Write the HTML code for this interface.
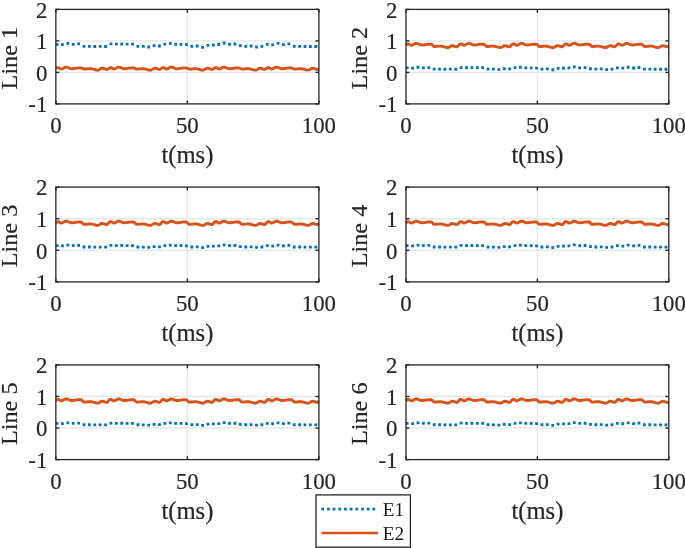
<!DOCTYPE html>
<html><head><meta charset="utf-8"><style>
html,body{margin:0;padding:0;background:#fff;}
svg{display:block;}
text{font-family:"Liberation Serif","Times New Roman",serif;fill:#262626;stroke:#262626;stroke-width:0.2px;}
.t{font-size:22.8px;}
.l{font-size:24.6px;}
.yl{font-size:24.2px;}
.g{font-size:19.2px;fill:#1a1a1a;stroke:none;}
</style></head><body>
<svg width="685" height="548" viewBox="0 0 685 548">
<line x1="55.85" y1="72.40" x2="318.9" y2="72.40" stroke="#e6e7e9" stroke-width="1.4"/>
<line x1="55.85" y1="40.90" x2="318.9" y2="40.90" stroke="#e6e7e9" stroke-width="1.4"/>
<line x1="187.38" y1="9.4" x2="187.38" y2="103.9" stroke="#e6e7e9" stroke-width="1.4"/>
<path d="M55.65 42.90h2.8v2.8h-2.8zM61.04 43.30h2.8v2.8h-2.8zM66.43 42.00h2.8v2.8h-2.8zM71.82 42.90h2.8v2.8h-2.8zM77.21 42.50h2.8v2.8h-2.8zM82.60 44.90h2.8v2.8h-2.8zM87.99 44.90h2.8v2.8h-2.8zM93.38 45.10h2.8v2.8h-2.8zM98.77 45.05h2.8v2.8h-2.8zM104.16 45.10h2.8v2.8h-2.8zM109.55 42.50h2.8v2.8h-2.8zM114.94 42.70h2.8v2.8h-2.8zM120.33 42.60h2.8v2.8h-2.8zM125.72 42.70h2.8v2.8h-2.8zM131.11 42.70h2.8v2.8h-2.8zM136.50 44.90h2.8v2.8h-2.8zM141.89 45.00h2.8v2.8h-2.8zM147.28 45.60h2.8v2.8h-2.8zM152.67 44.30h2.8v2.8h-2.8zM158.06 44.60h2.8v2.8h-2.8zM163.45 42.70h2.8v2.8h-2.8zM168.84 42.00h2.8v2.8h-2.8zM174.23 42.90h2.8v2.8h-2.8zM179.62 42.90h2.8v2.8h-2.8zM185.01 43.30h2.8v2.8h-2.8zM190.40 44.90h2.8v2.8h-2.8zM195.79 44.60h2.8v2.8h-2.8zM201.18 45.90h2.8v2.8h-2.8zM206.57 43.90h2.8v2.8h-2.8zM211.96 43.60h2.8v2.8h-2.8zM217.35 43.10h2.8v2.8h-2.8zM222.74 41.60h2.8v2.8h-2.8zM228.13 42.90h2.8v2.8h-2.8zM233.52 42.60h2.8v2.8h-2.8zM238.91 44.30h2.8v2.8h-2.8zM244.30 44.90h2.8v2.8h-2.8zM249.69 44.60h2.8v2.8h-2.8zM255.08 45.60h2.8v2.8h-2.8zM260.47 44.90h2.8v2.8h-2.8zM265.86 42.90h2.8v2.8h-2.8zM271.25 43.40h2.8v2.8h-2.8zM276.64 42.00h2.8v2.8h-2.8zM282.03 43.20h2.8v2.8h-2.8zM287.42 42.40h2.8v2.8h-2.8zM292.81 44.90h2.8v2.8h-2.8zM298.20 44.90h2.8v2.8h-2.8zM303.59 45.10h2.8v2.8h-2.8zM308.98 45.10h2.8v2.8h-2.8zM314.37 45.10h2.8v2.8h-2.8z" fill="#0072BD"/>
<polyline points="55.85,68.68 56.35,68.33 56.85,67.91 57.35,67.73 57.85,67.60 58.35,67.60 58.85,67.76 59.35,68.04 59.85,68.38 60.35,68.70 60.85,68.93 61.35,69.00 61.85,68.92 62.35,68.75 62.85,68.52 63.35,68.24 63.85,67.95 64.35,67.67 64.85,67.42 65.35,67.23 65.85,67.12 66.35,67.11 66.85,67.18 67.35,67.32 67.85,67.50 68.35,67.71 68.85,67.94 69.35,68.16 69.85,68.37 70.35,68.54 70.85,68.66 71.35,68.71 71.85,68.72 72.35,68.71 72.85,68.67 73.35,68.62 73.85,68.55 74.35,68.48 74.85,68.40 75.35,68.32 75.85,68.24 76.35,68.16 76.85,68.09 77.35,68.04 77.85,68.00 78.35,67.98 78.85,67.96 79.35,67.94 79.85,67.94 80.35,67.93 80.85,67.93 81.35,67.93 81.85,68.17 82.35,68.41 82.85,68.65 83.35,68.89 83.85,69.12 84.35,69.11 84.85,69.10 85.35,69.07 85.85,69.03 86.35,68.98 86.85,68.92 87.35,68.86 87.85,68.81 88.35,68.75 88.85,68.71 89.35,68.68 89.85,68.67 90.35,68.67 90.85,68.70 91.35,68.75 91.85,68.83 92.35,68.94 92.85,69.07 93.35,69.20 93.85,69.35 94.35,69.49 94.85,69.64 95.35,69.77 95.85,69.89 96.35,69.99 96.85,70.06 97.35,70.10 97.85,70.10 98.35,70.01 98.85,69.81 99.35,69.54 99.85,69.23 100.35,68.91 100.85,68.62 101.35,68.38 101.85,68.23 102.35,68.19 102.85,68.24 103.35,68.36 103.85,68.53 104.35,68.72 104.85,68.92 105.35,69.10 105.85,69.24 106.35,69.35 106.85,69.43 107.35,69.27 107.85,69.02 108.35,68.74 108.85,68.41 109.35,68.00 109.85,67.76 110.35,67.62 110.85,67.59 111.35,67.71 111.85,67.98 112.35,68.31 112.85,68.64 113.35,68.90 113.85,69.00 114.35,68.94 114.85,68.79 115.35,68.57 115.85,68.30 116.35,68.01 116.85,67.72 117.35,67.46 117.85,67.26 118.35,67.13 118.85,67.10 119.35,67.16 119.85,67.28 120.35,67.46 120.85,67.67 121.35,67.89 121.85,68.12 122.35,68.33 122.85,68.51 123.35,68.64 123.85,68.71 124.35,68.72 124.85,68.71 125.35,68.68 125.85,68.63 126.35,68.57 126.85,68.50 127.35,68.42 127.85,68.33 128.35,68.25 128.85,68.18 129.35,68.11 129.85,68.05 130.35,68.01 130.85,67.98 131.35,67.96 131.85,67.95 132.35,67.94 132.85,67.93 133.35,67.93 133.85,67.93 134.35,68.12 134.85,68.37 135.35,68.61 135.85,68.84 136.35,69.08 136.85,69.12 137.35,69.10 137.85,69.08 138.35,69.04 138.85,68.99 139.35,68.93 139.85,68.88 140.35,68.82 140.85,68.76 141.35,68.72 141.85,68.69 142.35,68.67 142.85,68.67 143.35,68.69 143.85,68.74 144.35,68.82 144.85,68.92 145.35,69.04 145.85,69.17 146.35,69.32 146.85,69.46 147.35,69.61 147.85,69.74 148.35,69.87 148.85,69.97 149.35,70.05 149.85,70.09 150.35,70.10 150.85,70.04 151.35,69.86 151.85,69.60 152.35,69.30 152.85,68.98 153.35,68.68 153.85,68.42 154.35,68.25 154.85,68.19 155.35,68.22 155.85,68.33 156.35,68.49 156.85,68.68 157.35,68.88 157.85,69.07 158.35,69.22 158.85,69.32 159.35,69.41 159.85,69.31 160.35,69.07 160.85,68.80 161.35,68.48 161.85,68.09 162.35,67.80 162.85,67.64 163.35,67.58 163.85,67.67 164.35,67.92 164.85,68.24 165.35,68.58 165.85,68.86 166.35,69.00 166.85,68.96 167.35,68.83 167.85,68.62 168.35,68.35 168.85,68.07 169.35,67.78 169.85,67.51 170.35,67.29 170.85,67.15 171.35,67.10 171.85,67.14 172.35,67.25 172.85,67.42 173.35,67.62 173.85,67.85 174.35,68.08 174.85,68.29 175.35,68.48 175.85,68.62 176.35,68.70 176.85,68.72 177.35,68.71 177.85,68.69 178.35,68.64 178.85,68.58 179.35,68.51 179.85,68.43 180.35,68.35 180.85,68.27 181.35,68.19 181.85,68.12 182.35,68.06 182.85,68.01 183.35,67.98 183.85,67.96 184.35,67.95 184.85,67.94 185.35,67.93 185.85,67.93 186.35,67.93 186.85,68.08 187.35,68.32 187.85,68.56 188.35,68.80 188.85,69.03 189.35,69.12 189.85,69.11 190.35,69.08 190.85,69.05 191.35,69.00 191.85,68.95 192.35,68.89 192.85,68.83 193.35,68.77 193.85,68.73 194.35,68.69 194.85,68.67 195.35,68.67 195.85,68.69 196.35,68.73 196.85,68.80 197.35,68.90 197.85,69.01 198.35,69.15 198.85,69.29 199.35,69.44 199.85,69.58 200.35,69.72 200.85,69.84 201.35,69.95 201.85,70.03 202.35,70.09 202.85,70.10 203.35,70.06 203.85,69.90 204.35,69.66 204.85,69.36 205.35,69.04 205.85,68.73 206.35,68.47 206.85,68.28 207.35,68.19 207.85,68.21 208.35,68.31 208.85,68.46 209.35,68.64 209.85,68.84 210.35,69.03 210.85,69.19 211.35,69.30 211.85,69.40 212.35,69.35 212.85,69.12 213.35,68.85 213.85,68.55 214.35,68.17 214.85,67.84 215.35,67.67 215.85,67.58 216.35,67.64 216.85,67.86 217.35,68.17 217.85,68.52 218.35,68.81 218.85,68.98 219.35,68.98 219.85,68.86 220.35,68.66 220.85,68.41 221.35,68.13 221.85,67.83 222.35,67.56 222.85,67.33 223.35,67.17 223.85,67.10 224.35,67.13 224.85,67.23 225.35,67.38 225.85,67.58 226.35,67.80 226.85,68.03 227.35,68.25 227.85,68.44 228.35,68.60 228.85,68.69 229.35,68.72 229.85,68.72 230.35,68.69 230.85,68.65 231.35,68.59 231.85,68.53 232.35,68.45 232.85,68.37 233.35,68.28 233.85,68.21 234.35,68.13 234.85,68.07 235.35,68.02 235.85,67.99 236.35,67.97 236.85,67.95 237.35,67.94 237.85,67.93 238.35,67.93 238.85,67.93 239.35,68.03 239.85,68.27 240.35,68.51 240.85,68.75 241.35,68.98 241.85,69.12 242.35,69.11 242.85,69.09 243.35,69.06 243.85,69.01 244.35,68.96 244.85,68.90 245.35,68.84 245.85,68.78 246.35,68.74 246.85,68.70 247.35,68.67 247.85,68.67 248.35,68.68 248.85,68.72 249.35,68.78 249.85,68.87 250.35,68.99 250.85,69.12 251.35,69.26 251.85,69.41 252.35,69.55 252.85,69.69 253.35,69.82 253.85,69.93 254.35,70.02 254.85,70.08 255.35,70.10 255.85,70.08 256.35,69.94 256.85,69.71 257.35,69.42 257.85,69.10 258.35,68.79 258.85,68.52 259.35,68.31 259.85,68.20 260.35,68.20 260.85,68.28 261.35,68.42 261.85,68.61 262.35,68.80 262.85,69.00 263.35,69.16 263.85,69.28 264.35,69.39 264.85,69.40 265.35,69.17 265.85,68.91 266.35,68.62 266.85,68.25 267.35,67.88 267.85,67.70 268.35,67.59 268.85,67.62 269.35,67.80 269.85,68.11 270.35,68.45 270.85,68.76 271.35,68.96 271.85,68.99 272.35,68.89 272.85,68.71 273.35,68.46 273.85,68.18 274.35,67.89 274.85,67.61 275.35,67.37 275.85,67.20 276.35,67.11 276.85,67.12 277.35,67.20 277.85,67.35 278.35,67.54 278.85,67.76 279.35,67.99 279.85,68.21 280.35,68.41 280.85,68.57 281.35,68.68 281.85,68.72 282.35,68.72 282.85,68.70 283.35,68.66 283.85,68.61 284.35,68.54 284.85,68.46 285.35,68.38 285.85,68.30 286.35,68.22 286.85,68.15 287.35,68.08 287.85,68.03 288.35,67.99 288.85,67.97 289.35,67.95 289.85,67.94 290.35,67.94 290.85,67.93 291.35,67.93 291.85,67.98 292.35,68.22 292.85,68.46 293.35,68.70 293.85,68.94 294.35,69.12 294.85,69.11 295.35,69.10 295.85,69.06 296.35,69.02 296.85,68.97 297.35,68.91 297.85,68.85 298.35,68.80 298.85,68.74 299.35,68.70 299.85,68.68 300.35,68.67 300.85,68.68 301.35,68.71 301.85,68.77 302.35,68.85 302.85,68.96 303.35,69.09 303.85,69.23 304.35,69.38 304.85,69.52 305.35,69.66 305.85,69.79 306.35,69.91 306.85,70.00 307.35,70.07 307.85,70.10 308.35,70.09 308.85,69.98 309.35,69.76 309.85,69.48 310.35,69.17 310.85,68.85 311.35,68.57 311.85,68.34 312.35,68.21 312.85,68.19 313.35,68.26 313.85,68.39 314.35,68.57 314.85,68.76 315.35,68.96 315.85,69.13 316.35,69.27 316.85,69.37 317.35,69.44 317.85,69.22 318.35,68.96 318.85,68.68" fill="none" stroke="#D95319" stroke-width="2.9" stroke-linejoin="round"/>
<line x1="55.85" y1="103.90" x2="59.25" y2="103.90" stroke="#262626" stroke-width="1.4"/>
<line x1="318.9" y1="103.90" x2="315.5" y2="103.90" stroke="#262626" stroke-width="1.4"/>
<line x1="55.85" y1="72.40" x2="59.25" y2="72.40" stroke="#262626" stroke-width="1.4"/>
<line x1="318.9" y1="72.40" x2="315.5" y2="72.40" stroke="#262626" stroke-width="1.4"/>
<line x1="55.85" y1="40.90" x2="59.25" y2="40.90" stroke="#262626" stroke-width="1.4"/>
<line x1="318.9" y1="40.90" x2="315.5" y2="40.90" stroke="#262626" stroke-width="1.4"/>
<line x1="55.85" y1="9.40" x2="59.25" y2="9.40" stroke="#262626" stroke-width="1.4"/>
<line x1="318.9" y1="9.40" x2="315.5" y2="9.40" stroke="#262626" stroke-width="1.4"/>
<line x1="55.85" y1="103.9" x2="55.85" y2="100.5" stroke="#262626" stroke-width="1.4"/>
<line x1="55.85" y1="9.4" x2="55.85" y2="12.8" stroke="#262626" stroke-width="1.4"/>
<line x1="187.38" y1="103.9" x2="187.38" y2="100.5" stroke="#262626" stroke-width="1.4"/>
<line x1="187.38" y1="9.4" x2="187.38" y2="12.8" stroke="#262626" stroke-width="1.4"/>
<line x1="318.90" y1="103.9" x2="318.90" y2="100.5" stroke="#262626" stroke-width="1.4"/>
<line x1="318.90" y1="9.4" x2="318.90" y2="12.8" stroke="#262626" stroke-width="1.4"/>
<rect x="55.85" y="9.4" width="263.05" height="94.50" fill="none" stroke="#262626" stroke-width="1.3"/>
<text x="47.35" y="112.10" text-anchor="end" class="t">-1</text>
<text x="47.35" y="80.60" text-anchor="end" class="t">0</text>
<text x="47.35" y="49.10" text-anchor="end" class="t">1</text>
<text x="47.35" y="17.60" text-anchor="end" class="t">2</text>
<text x="55.85" y="133.30" text-anchor="middle" class="t">0</text>
<text x="187.38" y="133.30" text-anchor="middle" class="t">50</text>
<text x="318.90" y="133.30" text-anchor="middle" class="t">100</text>
<text x="187.38" y="163.10" text-anchor="middle" class="l">t(ms)</text>
<text x="0" y="0" transform="translate(16.55,58.15) rotate(-90) scale(1,0.92)" text-anchor="middle" class="yl">Line 1</text>
<line x1="406.0" y1="72.40" x2="668.8" y2="72.40" stroke="#e6e7e9" stroke-width="1.4"/>
<line x1="406.0" y1="40.90" x2="668.8" y2="40.90" stroke="#e6e7e9" stroke-width="1.4"/>
<line x1="537.40" y1="9.4" x2="537.40" y2="103.9" stroke="#e6e7e9" stroke-width="1.4"/>
<path d="M405.80 66.42h2.8v2.8h-2.8zM411.19 66.67h2.8v2.8h-2.8zM416.58 65.83h2.8v2.8h-2.8zM421.97 66.42h2.8v2.8h-2.8zM427.36 66.16h2.8v2.8h-2.8zM432.75 67.72h2.8v2.8h-2.8zM438.14 67.72h2.8v2.8h-2.8zM443.53 67.84h2.8v2.8h-2.8zM448.92 67.81h2.8v2.8h-2.8zM454.31 67.84h2.8v2.8h-2.8zM459.70 66.16h2.8v2.8h-2.8zM465.09 66.28h2.8v2.8h-2.8zM470.48 66.22h2.8v2.8h-2.8zM475.87 66.28h2.8v2.8h-2.8zM481.26 66.28h2.8v2.8h-2.8zM486.65 67.72h2.8v2.8h-2.8zM492.04 67.78h2.8v2.8h-2.8zM497.43 68.17h2.8v2.8h-2.8zM502.82 67.33h2.8v2.8h-2.8zM508.21 67.52h2.8v2.8h-2.8zM513.60 66.28h2.8v2.8h-2.8zM518.99 65.83h2.8v2.8h-2.8zM524.38 66.42h2.8v2.8h-2.8zM529.77 66.42h2.8v2.8h-2.8zM535.16 66.67h2.8v2.8h-2.8zM540.55 67.72h2.8v2.8h-2.8zM545.94 67.52h2.8v2.8h-2.8zM551.33 68.36h2.8v2.8h-2.8zM556.72 67.06h2.8v2.8h-2.8zM562.11 66.87h2.8v2.8h-2.8zM567.50 66.55h2.8v2.8h-2.8zM572.89 65.57h2.8v2.8h-2.8zM578.28 66.42h2.8v2.8h-2.8zM583.67 66.22h2.8v2.8h-2.8zM589.06 67.33h2.8v2.8h-2.8zM594.45 67.72h2.8v2.8h-2.8zM599.84 67.52h2.8v2.8h-2.8zM605.23 68.17h2.8v2.8h-2.8zM610.62 67.72h2.8v2.8h-2.8zM616.01 66.42h2.8v2.8h-2.8zM621.40 66.74h2.8v2.8h-2.8zM626.79 65.83h2.8v2.8h-2.8zM632.18 66.61h2.8v2.8h-2.8zM637.57 66.09h2.8v2.8h-2.8zM642.96 67.72h2.8v2.8h-2.8zM648.35 67.72h2.8v2.8h-2.8zM653.74 67.84h2.8v2.8h-2.8zM659.13 67.84h2.8v2.8h-2.8zM664.52 67.84h2.8v2.8h-2.8z" fill="#0072BD"/>
<polyline points="406.00,45.41 406.50,44.82 407.00,44.16 407.50,43.98 408.00,43.85 408.50,43.85 409.00,44.01 409.50,44.29 410.00,44.63 410.50,44.95 411.00,45.18 411.50,45.25 412.00,45.17 412.50,45.00 413.00,44.77 413.50,44.49 414.00,44.20 414.50,43.92 415.00,43.67 415.50,43.48 416.00,43.37 416.50,43.36 417.00,43.43 417.50,43.57 418.00,43.75 418.50,43.96 419.00,44.19 419.50,44.41 420.00,44.62 420.50,44.79 421.00,44.91 421.50,44.96 422.00,44.97 422.50,44.96 423.00,44.92 423.50,44.87 424.00,44.80 424.50,44.73 425.00,44.65 425.50,44.57 426.00,44.49 426.50,44.41 427.00,44.34 427.50,44.29 428.00,44.25 428.50,44.23 429.00,44.21 429.50,44.19 430.00,44.19 430.50,44.18 431.00,44.18 431.50,44.18 432.00,44.66 432.50,45.14 433.00,45.62 433.50,46.10 434.00,46.57 434.50,46.56 435.00,46.55 435.50,46.52 436.00,46.48 436.50,46.43 437.00,46.37 437.50,46.31 438.00,46.26 438.50,46.20 439.00,46.16 439.50,46.13 440.00,46.12 440.50,46.12 441.00,46.15 441.50,46.20 442.00,46.28 442.50,46.39 443.00,46.52 443.50,46.65 444.00,46.80 444.50,46.94 445.00,47.09 445.50,47.22 446.00,47.34 446.50,47.44 447.00,47.51 447.50,47.55 448.00,47.55 448.50,47.46 449.00,47.26 449.50,46.99 450.00,46.68 450.50,46.36 451.00,46.07 451.50,45.83 452.00,45.68 452.50,45.64 453.00,45.69 453.50,45.81 454.00,45.98 454.50,46.17 455.00,46.37 455.50,46.55 456.00,46.69 456.50,46.80 457.00,46.88 457.50,46.52 458.00,46.03 458.50,45.52 459.00,44.95 459.50,44.30 460.00,44.01 460.50,43.87 461.00,43.84 461.50,43.96 462.00,44.23 462.50,44.56 463.00,44.89 463.50,45.15 464.00,45.25 464.50,45.19 465.00,45.04 465.50,44.82 466.00,44.55 466.50,44.26 467.00,43.97 467.50,43.71 468.00,43.51 468.50,43.38 469.00,43.35 469.50,43.41 470.00,43.53 470.50,43.71 471.00,43.92 471.50,44.14 472.00,44.37 472.50,44.58 473.00,44.76 473.50,44.89 474.00,44.96 474.50,44.97 475.00,44.96 475.50,44.93 476.00,44.88 476.50,44.82 477.00,44.75 477.50,44.67 478.00,44.58 478.50,44.50 479.00,44.43 479.50,44.36 480.00,44.30 480.50,44.26 481.00,44.23 481.50,44.21 482.00,44.20 482.50,44.19 483.00,44.18 483.50,44.18 484.00,44.18 484.50,44.57 485.00,45.05 485.50,45.53 486.00,46.01 486.50,46.48 487.00,46.57 487.50,46.55 488.00,46.53 488.50,46.49 489.00,46.44 489.50,46.38 490.00,46.33 490.50,46.27 491.00,46.21 491.50,46.17 492.00,46.14 492.50,46.12 493.00,46.12 493.50,46.14 494.00,46.19 494.50,46.27 495.00,46.37 495.50,46.49 496.00,46.62 496.50,46.77 497.00,46.91 497.50,47.06 498.00,47.19 498.50,47.32 499.00,47.42 499.50,47.50 500.00,47.54 500.50,47.55 501.00,47.49 501.50,47.31 502.00,47.05 502.50,46.75 503.00,46.43 503.50,46.13 504.00,45.87 504.50,45.70 505.00,45.64 505.50,45.67 506.00,45.78 506.50,45.94 507.00,46.13 507.50,46.33 508.00,46.52 508.50,46.67 509.00,46.77 509.50,46.86 510.00,46.62 510.50,46.14 511.00,45.62 511.50,45.07 512.00,44.43 512.50,44.05 513.00,43.89 513.50,43.83 514.00,43.92 514.50,44.17 515.00,44.49 515.50,44.83 516.00,45.11 516.50,45.25 517.00,45.21 517.50,45.08 518.00,44.87 518.50,44.60 519.00,44.32 519.50,44.03 520.00,43.76 520.50,43.54 521.00,43.40 521.50,43.35 522.00,43.39 522.50,43.50 523.00,43.67 523.50,43.87 524.00,44.10 524.50,44.33 525.00,44.54 525.50,44.73 526.00,44.87 526.50,44.95 527.00,44.97 527.50,44.96 528.00,44.94 528.50,44.89 529.00,44.83 529.50,44.76 530.00,44.68 530.50,44.60 531.00,44.52 531.50,44.44 532.00,44.37 532.50,44.31 533.00,44.26 533.50,44.23 534.00,44.21 534.50,44.20 535.00,44.19 535.50,44.18 536.00,44.18 536.50,44.18 537.00,44.47 537.50,44.95 538.00,45.43 538.50,45.91 539.00,46.39 539.50,46.57 540.00,46.56 540.50,46.53 541.00,46.50 541.50,46.45 542.00,46.40 542.50,46.34 543.00,46.28 543.50,46.22 544.00,46.18 544.50,46.14 545.00,46.12 545.50,46.12 546.00,46.14 546.50,46.18 547.00,46.25 547.50,46.35 548.00,46.46 548.50,46.60 549.00,46.74 549.50,46.89 550.00,47.03 550.50,47.17 551.00,47.29 551.50,47.40 552.00,47.48 552.50,47.54 553.00,47.55 553.50,47.51 554.00,47.35 554.50,47.11 555.00,46.81 555.50,46.49 556.00,46.18 556.50,45.92 557.00,45.73 557.50,45.64 558.00,45.66 558.50,45.76 559.00,45.91 559.50,46.09 560.00,46.29 560.50,46.48 561.00,46.64 561.50,46.75 562.00,46.85 562.50,46.71 563.00,46.23 563.50,45.73 564.00,45.19 564.50,44.56 565.00,44.09 565.50,43.92 566.00,43.83 566.50,43.89 567.00,44.11 567.50,44.42 568.00,44.77 568.50,45.06 569.00,45.23 569.50,45.23 570.00,45.11 570.50,44.91 571.00,44.66 571.50,44.38 572.00,44.08 572.50,43.81 573.00,43.58 573.50,43.42 574.00,43.35 574.50,43.38 575.00,43.48 575.50,43.63 576.00,43.83 576.50,44.05 577.00,44.28 577.50,44.50 578.00,44.69 578.50,44.85 579.00,44.94 579.50,44.97 580.00,44.97 580.50,44.94 581.00,44.90 581.50,44.84 582.00,44.78 582.50,44.70 583.00,44.62 583.50,44.53 584.00,44.46 584.50,44.38 585.00,44.32 585.50,44.27 586.00,44.24 586.50,44.22 587.00,44.20 587.50,44.19 588.00,44.18 588.50,44.18 589.00,44.18 589.50,44.37 590.00,44.85 590.50,45.34 591.00,45.81 591.50,46.29 592.00,46.57 592.50,46.56 593.00,46.54 593.50,46.51 594.00,46.46 594.50,46.41 595.00,46.35 595.50,46.29 596.00,46.23 596.50,46.19 597.00,46.15 597.50,46.12 598.00,46.12 598.50,46.13 599.00,46.17 599.50,46.23 600.00,46.32 600.50,46.44 601.00,46.57 601.50,46.71 602.00,46.86 602.50,47.00 603.00,47.14 603.50,47.27 604.00,47.38 604.50,47.47 605.00,47.53 605.50,47.55 606.00,47.53 606.50,47.39 607.00,47.16 607.50,46.87 608.00,46.55 608.50,46.24 609.00,45.97 609.50,45.76 610.00,45.65 610.50,45.65 611.00,45.73 611.50,45.87 612.00,46.06 612.50,46.25 613.00,46.45 613.50,46.61 614.00,46.73 614.50,46.84 615.00,46.80 615.50,46.33 616.00,45.83 616.50,45.30 617.00,44.69 617.50,44.13 618.00,43.95 618.50,43.84 619.00,43.87 619.50,44.05 620.00,44.36 620.50,44.70 621.00,45.01 621.50,45.21 622.00,45.24 622.50,45.14 623.00,44.96 623.50,44.71 624.00,44.43 624.50,44.14 625.00,43.86 625.50,43.62 626.00,43.45 626.50,43.36 627.00,43.37 627.50,43.45 628.00,43.60 628.50,43.79 629.00,44.01 629.50,44.24 630.00,44.46 630.50,44.66 631.00,44.82 631.50,44.93 632.00,44.97 632.50,44.97 633.00,44.95 633.50,44.91 634.00,44.86 634.50,44.79 635.00,44.71 635.50,44.63 636.00,44.55 636.50,44.47 637.00,44.40 637.50,44.33 638.00,44.28 638.50,44.24 639.00,44.22 639.50,44.20 640.00,44.19 640.50,44.19 641.00,44.18 641.50,44.18 642.00,44.28 642.50,44.76 643.00,45.24 643.50,45.72 644.00,46.20 644.50,46.57 645.00,46.56 645.50,46.55 646.00,46.51 646.50,46.47 647.00,46.42 647.50,46.36 648.00,46.30 648.50,46.25 649.00,46.19 649.50,46.15 650.00,46.13 650.50,46.12 651.00,46.13 651.50,46.16 652.00,46.22 652.50,46.30 653.00,46.41 653.50,46.54 654.00,46.68 654.50,46.83 655.00,46.97 655.50,47.11 656.00,47.24 656.50,47.36 657.00,47.45 657.50,47.52 658.00,47.55 658.50,47.54 659.00,47.43 659.50,47.21 660.00,46.93 660.50,46.62 661.00,46.30 661.50,46.02 662.00,45.79 662.50,45.66 663.00,45.64 663.50,45.71 664.00,45.84 664.50,46.02 665.00,46.21 665.50,46.41 666.00,46.58 666.50,46.72 667.00,46.82 667.50,46.89 668.00,46.43 668.50,45.93" fill="none" stroke="#D95319" stroke-width="2.9" stroke-linejoin="round"/>
<line x1="406.0" y1="103.90" x2="409.4" y2="103.90" stroke="#262626" stroke-width="1.4"/>
<line x1="668.8" y1="103.90" x2="665.4" y2="103.90" stroke="#262626" stroke-width="1.4"/>
<line x1="406.0" y1="72.40" x2="409.4" y2="72.40" stroke="#262626" stroke-width="1.4"/>
<line x1="668.8" y1="72.40" x2="665.4" y2="72.40" stroke="#262626" stroke-width="1.4"/>
<line x1="406.0" y1="40.90" x2="409.4" y2="40.90" stroke="#262626" stroke-width="1.4"/>
<line x1="668.8" y1="40.90" x2="665.4" y2="40.90" stroke="#262626" stroke-width="1.4"/>
<line x1="406.0" y1="9.40" x2="409.4" y2="9.40" stroke="#262626" stroke-width="1.4"/>
<line x1="668.8" y1="9.40" x2="665.4" y2="9.40" stroke="#262626" stroke-width="1.4"/>
<line x1="406.00" y1="103.9" x2="406.00" y2="100.5" stroke="#262626" stroke-width="1.4"/>
<line x1="406.00" y1="9.4" x2="406.00" y2="12.8" stroke="#262626" stroke-width="1.4"/>
<line x1="537.40" y1="103.9" x2="537.40" y2="100.5" stroke="#262626" stroke-width="1.4"/>
<line x1="537.40" y1="9.4" x2="537.40" y2="12.8" stroke="#262626" stroke-width="1.4"/>
<line x1="668.80" y1="103.9" x2="668.80" y2="100.5" stroke="#262626" stroke-width="1.4"/>
<line x1="668.80" y1="9.4" x2="668.80" y2="12.8" stroke="#262626" stroke-width="1.4"/>
<rect x="406.0" y="9.4" width="262.80" height="94.50" fill="none" stroke="#262626" stroke-width="1.3"/>
<text x="397.50" y="112.10" text-anchor="end" class="t">-1</text>
<text x="397.50" y="80.60" text-anchor="end" class="t">0</text>
<text x="397.50" y="49.10" text-anchor="end" class="t">1</text>
<text x="397.50" y="17.60" text-anchor="end" class="t">2</text>
<text x="406.00" y="133.30" text-anchor="middle" class="t">0</text>
<text x="537.40" y="133.30" text-anchor="middle" class="t">50</text>
<text x="668.80" y="133.30" text-anchor="middle" class="t">100</text>
<text x="537.40" y="163.10" text-anchor="middle" class="l">t(ms)</text>
<text x="0" y="0" transform="translate(366.70,58.15) rotate(-90) scale(1,0.92)" text-anchor="middle" class="yl">Line 2</text>
<line x1="55.85" y1="250.30" x2="318.9" y2="250.30" stroke="#e6e7e9" stroke-width="1.4"/>
<line x1="55.85" y1="218.70" x2="318.9" y2="218.70" stroke="#e6e7e9" stroke-width="1.4"/>
<line x1="187.38" y1="187.1" x2="187.38" y2="281.9" stroke="#e6e7e9" stroke-width="1.4"/>
<path d="M55.65 244.31h2.8v2.8h-2.8zM61.04 244.57h2.8v2.8h-2.8zM66.43 243.73h2.8v2.8h-2.8zM71.82 244.31h2.8v2.8h-2.8zM77.21 244.05h2.8v2.8h-2.8zM82.60 245.61h2.8v2.8h-2.8zM87.99 245.61h2.8v2.8h-2.8zM93.38 245.74h2.8v2.8h-2.8zM98.77 245.71h2.8v2.8h-2.8zM104.16 245.74h2.8v2.8h-2.8zM109.55 244.05h2.8v2.8h-2.8zM114.94 244.18h2.8v2.8h-2.8zM120.33 244.12h2.8v2.8h-2.8zM125.72 244.18h2.8v2.8h-2.8zM131.11 244.18h2.8v2.8h-2.8zM136.50 245.61h2.8v2.8h-2.8zM141.89 245.68h2.8v2.8h-2.8zM147.28 246.07h2.8v2.8h-2.8zM152.67 245.22h2.8v2.8h-2.8zM158.06 245.42h2.8v2.8h-2.8zM163.45 244.18h2.8v2.8h-2.8zM168.84 243.73h2.8v2.8h-2.8zM174.23 244.31h2.8v2.8h-2.8zM179.62 244.31h2.8v2.8h-2.8zM185.01 244.57h2.8v2.8h-2.8zM190.40 245.61h2.8v2.8h-2.8zM195.79 245.42h2.8v2.8h-2.8zM201.18 246.26h2.8v2.8h-2.8zM206.57 244.96h2.8v2.8h-2.8zM211.96 244.77h2.8v2.8h-2.8zM217.35 244.44h2.8v2.8h-2.8zM222.74 243.47h2.8v2.8h-2.8zM228.13 244.31h2.8v2.8h-2.8zM233.52 244.12h2.8v2.8h-2.8zM238.91 245.22h2.8v2.8h-2.8zM244.30 245.61h2.8v2.8h-2.8zM249.69 245.42h2.8v2.8h-2.8zM255.08 246.07h2.8v2.8h-2.8zM260.47 245.61h2.8v2.8h-2.8zM265.86 244.31h2.8v2.8h-2.8zM271.25 244.64h2.8v2.8h-2.8zM276.64 243.73h2.8v2.8h-2.8zM282.03 244.51h2.8v2.8h-2.8zM287.42 243.99h2.8v2.8h-2.8zM292.81 245.61h2.8v2.8h-2.8zM298.20 245.61h2.8v2.8h-2.8zM303.59 245.74h2.8v2.8h-2.8zM308.98 245.74h2.8v2.8h-2.8zM314.37 245.74h2.8v2.8h-2.8z" fill="#0072BD"/>
<polyline points="55.85,223.21 56.35,222.62 56.85,221.96 57.35,221.78 57.85,221.65 58.35,221.65 58.85,221.81 59.35,222.09 59.85,222.43 60.35,222.75 60.85,222.98 61.35,223.05 61.85,222.97 62.35,222.80 62.85,222.57 63.35,222.29 63.85,222.00 64.35,221.72 64.85,221.47 65.35,221.28 65.85,221.17 66.35,221.16 66.85,221.23 67.35,221.37 67.85,221.55 68.35,221.76 68.85,221.99 69.35,222.21 69.85,222.42 70.35,222.59 70.85,222.71 71.35,222.76 71.85,222.77 72.35,222.76 72.85,222.72 73.35,222.67 73.85,222.60 74.35,222.53 74.85,222.45 75.35,222.37 75.85,222.29 76.35,222.21 76.85,222.14 77.35,222.09 77.85,222.05 78.35,222.03 78.85,222.01 79.35,221.99 79.85,221.99 80.35,221.98 80.85,221.98 81.35,221.98 81.85,222.46 82.35,222.94 82.85,223.42 83.35,223.90 83.85,224.37 84.35,224.36 84.85,224.35 85.35,224.32 85.85,224.28 86.35,224.23 86.85,224.17 87.35,224.11 87.85,224.06 88.35,224.00 88.85,223.96 89.35,223.93 89.85,223.92 90.35,223.92 90.85,223.95 91.35,224.00 91.85,224.08 92.35,224.19 92.85,224.32 93.35,224.45 93.85,224.60 94.35,224.74 94.85,224.89 95.35,225.02 95.85,225.14 96.35,225.24 96.85,225.31 97.35,225.35 97.85,225.35 98.35,225.26 98.85,225.06 99.35,224.79 99.85,224.48 100.35,224.16 100.85,223.87 101.35,223.63 101.85,223.48 102.35,223.44 102.85,223.49 103.35,223.61 103.85,223.78 104.35,223.97 104.85,224.17 105.35,224.35 105.85,224.49 106.35,224.60 106.85,224.68 107.35,224.32 107.85,223.83 108.35,223.32 108.85,222.75 109.35,222.10 109.85,221.81 110.35,221.67 110.85,221.64 111.35,221.76 111.85,222.03 112.35,222.36 112.85,222.69 113.35,222.95 113.85,223.05 114.35,222.99 114.85,222.84 115.35,222.62 115.85,222.35 116.35,222.06 116.85,221.77 117.35,221.51 117.85,221.31 118.35,221.18 118.85,221.15 119.35,221.21 119.85,221.33 120.35,221.51 120.85,221.72 121.35,221.94 121.85,222.17 122.35,222.38 122.85,222.56 123.35,222.69 123.85,222.76 124.35,222.77 124.85,222.76 125.35,222.73 125.85,222.68 126.35,222.62 126.85,222.55 127.35,222.47 127.85,222.38 128.35,222.30 128.85,222.23 129.35,222.16 129.85,222.10 130.35,222.06 130.85,222.03 131.35,222.01 131.85,222.00 132.35,221.99 132.85,221.98 133.35,221.98 133.85,221.98 134.35,222.37 134.85,222.85 135.35,223.33 135.85,223.81 136.35,224.28 136.85,224.37 137.35,224.35 137.85,224.33 138.35,224.29 138.85,224.24 139.35,224.18 139.85,224.13 140.35,224.07 140.85,224.01 141.35,223.97 141.85,223.94 142.35,223.92 142.85,223.92 143.35,223.94 143.85,223.99 144.35,224.07 144.85,224.17 145.35,224.29 145.85,224.42 146.35,224.57 146.85,224.71 147.35,224.86 147.85,224.99 148.35,225.12 148.85,225.22 149.35,225.30 149.85,225.34 150.35,225.35 150.85,225.29 151.35,225.11 151.85,224.85 152.35,224.55 152.85,224.23 153.35,223.93 153.85,223.67 154.35,223.50 154.85,223.44 155.35,223.47 155.85,223.58 156.35,223.74 156.85,223.93 157.35,224.13 157.85,224.32 158.35,224.47 158.85,224.57 159.35,224.66 159.85,224.42 160.35,223.94 160.85,223.42 161.35,222.87 161.85,222.23 162.35,221.85 162.85,221.69 163.35,221.63 163.85,221.72 164.35,221.97 164.85,222.29 165.35,222.63 165.85,222.91 166.35,223.05 166.85,223.01 167.35,222.88 167.85,222.67 168.35,222.40 168.85,222.12 169.35,221.83 169.85,221.56 170.35,221.34 170.85,221.20 171.35,221.15 171.85,221.19 172.35,221.30 172.85,221.47 173.35,221.67 173.85,221.90 174.35,222.13 174.85,222.34 175.35,222.53 175.85,222.67 176.35,222.75 176.85,222.77 177.35,222.76 177.85,222.74 178.35,222.69 178.85,222.63 179.35,222.56 179.85,222.48 180.35,222.40 180.85,222.32 181.35,222.24 181.85,222.17 182.35,222.11 182.85,222.06 183.35,222.03 183.85,222.01 184.35,222.00 184.85,221.99 185.35,221.98 185.85,221.98 186.35,221.98 186.85,222.27 187.35,222.75 187.85,223.23 188.35,223.71 188.85,224.19 189.35,224.37 189.85,224.36 190.35,224.33 190.85,224.30 191.35,224.25 191.85,224.20 192.35,224.14 192.85,224.08 193.35,224.02 193.85,223.98 194.35,223.94 194.85,223.92 195.35,223.92 195.85,223.94 196.35,223.98 196.85,224.05 197.35,224.15 197.85,224.26 198.35,224.40 198.85,224.54 199.35,224.69 199.85,224.83 200.35,224.97 200.85,225.09 201.35,225.20 201.85,225.28 202.35,225.34 202.85,225.35 203.35,225.31 203.85,225.15 204.35,224.91 204.85,224.61 205.35,224.29 205.85,223.98 206.35,223.72 206.85,223.53 207.35,223.44 207.85,223.46 208.35,223.56 208.85,223.71 209.35,223.89 209.85,224.09 210.35,224.28 210.85,224.44 211.35,224.55 211.85,224.65 212.35,224.51 212.85,224.03 213.35,223.53 213.85,222.99 214.35,222.36 214.85,221.89 215.35,221.72 215.85,221.63 216.35,221.69 216.85,221.91 217.35,222.22 217.85,222.57 218.35,222.86 218.85,223.03 219.35,223.03 219.85,222.91 220.35,222.71 220.85,222.46 221.35,222.18 221.85,221.88 222.35,221.61 222.85,221.38 223.35,221.22 223.85,221.15 224.35,221.18 224.85,221.28 225.35,221.43 225.85,221.63 226.35,221.85 226.85,222.08 227.35,222.30 227.85,222.49 228.35,222.65 228.85,222.74 229.35,222.77 229.85,222.77 230.35,222.74 230.85,222.70 231.35,222.64 231.85,222.58 232.35,222.50 232.85,222.42 233.35,222.33 233.85,222.26 234.35,222.18 234.85,222.12 235.35,222.07 235.85,222.04 236.35,222.02 236.85,222.00 237.35,221.99 237.85,221.98 238.35,221.98 238.85,221.98 239.35,222.17 239.85,222.65 240.35,223.14 240.85,223.61 241.35,224.09 241.85,224.37 242.35,224.36 242.85,224.34 243.35,224.31 243.85,224.26 244.35,224.21 244.85,224.15 245.35,224.09 245.85,224.03 246.35,223.99 246.85,223.95 247.35,223.92 247.85,223.92 248.35,223.93 248.85,223.97 249.35,224.03 249.85,224.12 250.35,224.24 250.85,224.37 251.35,224.51 251.85,224.66 252.35,224.80 252.85,224.94 253.35,225.07 253.85,225.18 254.35,225.27 254.85,225.33 255.35,225.35 255.85,225.33 256.35,225.19 256.85,224.96 257.35,224.67 257.85,224.35 258.35,224.04 258.85,223.77 259.35,223.56 259.85,223.45 260.35,223.45 260.85,223.53 261.35,223.67 261.85,223.86 262.35,224.05 262.85,224.25 263.35,224.41 263.85,224.53 264.35,224.64 264.85,224.60 265.35,224.13 265.85,223.63 266.35,223.10 266.85,222.49 267.35,221.93 267.85,221.75 268.35,221.64 268.85,221.67 269.35,221.85 269.85,222.16 270.35,222.50 270.85,222.81 271.35,223.01 271.85,223.04 272.35,222.94 272.85,222.76 273.35,222.51 273.85,222.23 274.35,221.94 274.85,221.66 275.35,221.42 275.85,221.25 276.35,221.16 276.85,221.17 277.35,221.25 277.85,221.40 278.35,221.59 278.85,221.81 279.35,222.04 279.85,222.26 280.35,222.46 280.85,222.62 281.35,222.73 281.85,222.77 282.35,222.77 282.85,222.75 283.35,222.71 283.85,222.66 284.35,222.59 284.85,222.51 285.35,222.43 285.85,222.35 286.35,222.27 286.85,222.20 287.35,222.13 287.85,222.08 288.35,222.04 288.85,222.02 289.35,222.00 289.85,221.99 290.35,221.99 290.85,221.98 291.35,221.98 291.85,222.08 292.35,222.56 292.85,223.04 293.35,223.52 293.85,224.00 294.35,224.37 294.85,224.36 295.35,224.35 295.85,224.31 296.35,224.27 296.85,224.22 297.35,224.16 297.85,224.10 298.35,224.05 298.85,223.99 299.35,223.95 299.85,223.93 300.35,223.92 300.85,223.93 301.35,223.96 301.85,224.02 302.35,224.10 302.85,224.21 303.35,224.34 303.85,224.48 304.35,224.63 304.85,224.77 305.35,224.91 305.85,225.04 306.35,225.16 306.85,225.25 307.35,225.32 307.85,225.35 308.35,225.34 308.85,225.23 309.35,225.01 309.85,224.73 310.35,224.42 310.85,224.10 311.35,223.82 311.85,223.59 312.35,223.46 312.85,223.44 313.35,223.51 313.85,223.64 314.35,223.82 314.85,224.01 315.35,224.21 315.85,224.38 316.35,224.52 316.85,224.62 317.35,224.69 317.85,224.23 318.35,223.73 318.85,223.21" fill="none" stroke="#D95319" stroke-width="2.9" stroke-linejoin="round"/>
<line x1="55.85" y1="281.90" x2="59.25" y2="281.90" stroke="#262626" stroke-width="1.4"/>
<line x1="318.9" y1="281.90" x2="315.5" y2="281.90" stroke="#262626" stroke-width="1.4"/>
<line x1="55.85" y1="250.30" x2="59.25" y2="250.30" stroke="#262626" stroke-width="1.4"/>
<line x1="318.9" y1="250.30" x2="315.5" y2="250.30" stroke="#262626" stroke-width="1.4"/>
<line x1="55.85" y1="218.70" x2="59.25" y2="218.70" stroke="#262626" stroke-width="1.4"/>
<line x1="318.9" y1="218.70" x2="315.5" y2="218.70" stroke="#262626" stroke-width="1.4"/>
<line x1="55.85" y1="187.10" x2="59.25" y2="187.10" stroke="#262626" stroke-width="1.4"/>
<line x1="318.9" y1="187.10" x2="315.5" y2="187.10" stroke="#262626" stroke-width="1.4"/>
<line x1="55.85" y1="281.9" x2="55.85" y2="278.5" stroke="#262626" stroke-width="1.4"/>
<line x1="55.85" y1="187.1" x2="55.85" y2="190.5" stroke="#262626" stroke-width="1.4"/>
<line x1="187.38" y1="281.9" x2="187.38" y2="278.5" stroke="#262626" stroke-width="1.4"/>
<line x1="187.38" y1="187.1" x2="187.38" y2="190.5" stroke="#262626" stroke-width="1.4"/>
<line x1="318.90" y1="281.9" x2="318.90" y2="278.5" stroke="#262626" stroke-width="1.4"/>
<line x1="318.90" y1="187.1" x2="318.90" y2="190.5" stroke="#262626" stroke-width="1.4"/>
<rect x="55.85" y="187.1" width="263.05" height="94.80" fill="none" stroke="#262626" stroke-width="1.3"/>
<text x="47.35" y="290.10" text-anchor="end" class="t">-1</text>
<text x="47.35" y="258.50" text-anchor="end" class="t">0</text>
<text x="47.35" y="226.90" text-anchor="end" class="t">1</text>
<text x="47.35" y="195.30" text-anchor="end" class="t">2</text>
<text x="55.85" y="311.30" text-anchor="middle" class="t">0</text>
<text x="187.38" y="311.30" text-anchor="middle" class="t">50</text>
<text x="318.90" y="311.30" text-anchor="middle" class="t">100</text>
<text x="187.38" y="341.10" text-anchor="middle" class="l">t(ms)</text>
<text x="0" y="0" transform="translate(16.55,236.00) rotate(-90) scale(1,0.92)" text-anchor="middle" class="yl">Line 3</text>
<line x1="406.0" y1="250.30" x2="668.8" y2="250.30" stroke="#e6e7e9" stroke-width="1.4"/>
<line x1="406.0" y1="218.70" x2="668.8" y2="218.70" stroke="#e6e7e9" stroke-width="1.4"/>
<line x1="537.40" y1="187.1" x2="537.40" y2="281.9" stroke="#e6e7e9" stroke-width="1.4"/>
<path d="M405.80 244.31h2.8v2.8h-2.8zM411.19 244.57h2.8v2.8h-2.8zM416.58 243.73h2.8v2.8h-2.8zM421.97 244.31h2.8v2.8h-2.8zM427.36 244.05h2.8v2.8h-2.8zM432.75 245.61h2.8v2.8h-2.8zM438.14 245.61h2.8v2.8h-2.8zM443.53 245.74h2.8v2.8h-2.8zM448.92 245.71h2.8v2.8h-2.8zM454.31 245.74h2.8v2.8h-2.8zM459.70 244.05h2.8v2.8h-2.8zM465.09 244.18h2.8v2.8h-2.8zM470.48 244.12h2.8v2.8h-2.8zM475.87 244.18h2.8v2.8h-2.8zM481.26 244.18h2.8v2.8h-2.8zM486.65 245.61h2.8v2.8h-2.8zM492.04 245.68h2.8v2.8h-2.8zM497.43 246.07h2.8v2.8h-2.8zM502.82 245.22h2.8v2.8h-2.8zM508.21 245.42h2.8v2.8h-2.8zM513.60 244.18h2.8v2.8h-2.8zM518.99 243.73h2.8v2.8h-2.8zM524.38 244.31h2.8v2.8h-2.8zM529.77 244.31h2.8v2.8h-2.8zM535.16 244.57h2.8v2.8h-2.8zM540.55 245.61h2.8v2.8h-2.8zM545.94 245.42h2.8v2.8h-2.8zM551.33 246.26h2.8v2.8h-2.8zM556.72 244.96h2.8v2.8h-2.8zM562.11 244.77h2.8v2.8h-2.8zM567.50 244.44h2.8v2.8h-2.8zM572.89 243.47h2.8v2.8h-2.8zM578.28 244.31h2.8v2.8h-2.8zM583.67 244.12h2.8v2.8h-2.8zM589.06 245.22h2.8v2.8h-2.8zM594.45 245.61h2.8v2.8h-2.8zM599.84 245.42h2.8v2.8h-2.8zM605.23 246.07h2.8v2.8h-2.8zM610.62 245.61h2.8v2.8h-2.8zM616.01 244.31h2.8v2.8h-2.8zM621.40 244.64h2.8v2.8h-2.8zM626.79 243.73h2.8v2.8h-2.8zM632.18 244.51h2.8v2.8h-2.8zM637.57 243.99h2.8v2.8h-2.8zM642.96 245.61h2.8v2.8h-2.8zM648.35 245.61h2.8v2.8h-2.8zM653.74 245.74h2.8v2.8h-2.8zM659.13 245.74h2.8v2.8h-2.8zM664.52 245.74h2.8v2.8h-2.8z" fill="#0072BD"/>
<polyline points="406.00,223.21 406.50,222.62 407.00,221.96 407.50,221.78 408.00,221.65 408.50,221.65 409.00,221.81 409.50,222.09 410.00,222.43 410.50,222.75 411.00,222.98 411.50,223.05 412.00,222.97 412.50,222.80 413.00,222.57 413.50,222.29 414.00,222.00 414.50,221.72 415.00,221.47 415.50,221.28 416.00,221.17 416.50,221.16 417.00,221.23 417.50,221.37 418.00,221.55 418.50,221.76 419.00,221.99 419.50,222.21 420.00,222.42 420.50,222.59 421.00,222.71 421.50,222.76 422.00,222.77 422.50,222.76 423.00,222.72 423.50,222.67 424.00,222.60 424.50,222.53 425.00,222.45 425.50,222.37 426.00,222.29 426.50,222.21 427.00,222.14 427.50,222.09 428.00,222.05 428.50,222.03 429.00,222.01 429.50,221.99 430.00,221.99 430.50,221.98 431.00,221.98 431.50,221.98 432.00,222.46 432.50,222.94 433.00,223.42 433.50,223.90 434.00,224.37 434.50,224.36 435.00,224.35 435.50,224.32 436.00,224.28 436.50,224.23 437.00,224.17 437.50,224.11 438.00,224.06 438.50,224.00 439.00,223.96 439.50,223.93 440.00,223.92 440.50,223.92 441.00,223.95 441.50,224.00 442.00,224.08 442.50,224.19 443.00,224.32 443.50,224.45 444.00,224.60 444.50,224.74 445.00,224.89 445.50,225.02 446.00,225.14 446.50,225.24 447.00,225.31 447.50,225.35 448.00,225.35 448.50,225.26 449.00,225.06 449.50,224.79 450.00,224.48 450.50,224.16 451.00,223.87 451.50,223.63 452.00,223.48 452.50,223.44 453.00,223.49 453.50,223.61 454.00,223.78 454.50,223.97 455.00,224.17 455.50,224.35 456.00,224.49 456.50,224.60 457.00,224.68 457.50,224.32 458.00,223.83 458.50,223.32 459.00,222.75 459.50,222.10 460.00,221.81 460.50,221.67 461.00,221.64 461.50,221.76 462.00,222.03 462.50,222.36 463.00,222.69 463.50,222.95 464.00,223.05 464.50,222.99 465.00,222.84 465.50,222.62 466.00,222.35 466.50,222.06 467.00,221.77 467.50,221.51 468.00,221.31 468.50,221.18 469.00,221.15 469.50,221.21 470.00,221.33 470.50,221.51 471.00,221.72 471.50,221.94 472.00,222.17 472.50,222.38 473.00,222.56 473.50,222.69 474.00,222.76 474.50,222.77 475.00,222.76 475.50,222.73 476.00,222.68 476.50,222.62 477.00,222.55 477.50,222.47 478.00,222.38 478.50,222.30 479.00,222.23 479.50,222.16 480.00,222.10 480.50,222.06 481.00,222.03 481.50,222.01 482.00,222.00 482.50,221.99 483.00,221.98 483.50,221.98 484.00,221.98 484.50,222.37 485.00,222.85 485.50,223.33 486.00,223.81 486.50,224.28 487.00,224.37 487.50,224.35 488.00,224.33 488.50,224.29 489.00,224.24 489.50,224.18 490.00,224.13 490.50,224.07 491.00,224.01 491.50,223.97 492.00,223.94 492.50,223.92 493.00,223.92 493.50,223.94 494.00,223.99 494.50,224.07 495.00,224.17 495.50,224.29 496.00,224.42 496.50,224.57 497.00,224.71 497.50,224.86 498.00,224.99 498.50,225.12 499.00,225.22 499.50,225.30 500.00,225.34 500.50,225.35 501.00,225.29 501.50,225.11 502.00,224.85 502.50,224.55 503.00,224.23 503.50,223.93 504.00,223.67 504.50,223.50 505.00,223.44 505.50,223.47 506.00,223.58 506.50,223.74 507.00,223.93 507.50,224.13 508.00,224.32 508.50,224.47 509.00,224.57 509.50,224.66 510.00,224.42 510.50,223.94 511.00,223.42 511.50,222.87 512.00,222.23 512.50,221.85 513.00,221.69 513.50,221.63 514.00,221.72 514.50,221.97 515.00,222.29 515.50,222.63 516.00,222.91 516.50,223.05 517.00,223.01 517.50,222.88 518.00,222.67 518.50,222.40 519.00,222.12 519.50,221.83 520.00,221.56 520.50,221.34 521.00,221.20 521.50,221.15 522.00,221.19 522.50,221.30 523.00,221.47 523.50,221.67 524.00,221.90 524.50,222.13 525.00,222.34 525.50,222.53 526.00,222.67 526.50,222.75 527.00,222.77 527.50,222.76 528.00,222.74 528.50,222.69 529.00,222.63 529.50,222.56 530.00,222.48 530.50,222.40 531.00,222.32 531.50,222.24 532.00,222.17 532.50,222.11 533.00,222.06 533.50,222.03 534.00,222.01 534.50,222.00 535.00,221.99 535.50,221.98 536.00,221.98 536.50,221.98 537.00,222.27 537.50,222.75 538.00,223.23 538.50,223.71 539.00,224.19 539.50,224.37 540.00,224.36 540.50,224.33 541.00,224.30 541.50,224.25 542.00,224.20 542.50,224.14 543.00,224.08 543.50,224.02 544.00,223.98 544.50,223.94 545.00,223.92 545.50,223.92 546.00,223.94 546.50,223.98 547.00,224.05 547.50,224.15 548.00,224.26 548.50,224.40 549.00,224.54 549.50,224.69 550.00,224.83 550.50,224.97 551.00,225.09 551.50,225.20 552.00,225.28 552.50,225.34 553.00,225.35 553.50,225.31 554.00,225.15 554.50,224.91 555.00,224.61 555.50,224.29 556.00,223.98 556.50,223.72 557.00,223.53 557.50,223.44 558.00,223.46 558.50,223.56 559.00,223.71 559.50,223.89 560.00,224.09 560.50,224.28 561.00,224.44 561.50,224.55 562.00,224.65 562.50,224.51 563.00,224.03 563.50,223.53 564.00,222.99 564.50,222.36 565.00,221.89 565.50,221.72 566.00,221.63 566.50,221.69 567.00,221.91 567.50,222.22 568.00,222.57 568.50,222.86 569.00,223.03 569.50,223.03 570.00,222.91 570.50,222.71 571.00,222.46 571.50,222.18 572.00,221.88 572.50,221.61 573.00,221.38 573.50,221.22 574.00,221.15 574.50,221.18 575.00,221.28 575.50,221.43 576.00,221.63 576.50,221.85 577.00,222.08 577.50,222.30 578.00,222.49 578.50,222.65 579.00,222.74 579.50,222.77 580.00,222.77 580.50,222.74 581.00,222.70 581.50,222.64 582.00,222.58 582.50,222.50 583.00,222.42 583.50,222.33 584.00,222.26 584.50,222.18 585.00,222.12 585.50,222.07 586.00,222.04 586.50,222.02 587.00,222.00 587.50,221.99 588.00,221.98 588.50,221.98 589.00,221.98 589.50,222.17 590.00,222.65 590.50,223.14 591.00,223.61 591.50,224.09 592.00,224.37 592.50,224.36 593.00,224.34 593.50,224.31 594.00,224.26 594.50,224.21 595.00,224.15 595.50,224.09 596.00,224.03 596.50,223.99 597.00,223.95 597.50,223.92 598.00,223.92 598.50,223.93 599.00,223.97 599.50,224.03 600.00,224.12 600.50,224.24 601.00,224.37 601.50,224.51 602.00,224.66 602.50,224.80 603.00,224.94 603.50,225.07 604.00,225.18 604.50,225.27 605.00,225.33 605.50,225.35 606.00,225.33 606.50,225.19 607.00,224.96 607.50,224.67 608.00,224.35 608.50,224.04 609.00,223.77 609.50,223.56 610.00,223.45 610.50,223.45 611.00,223.53 611.50,223.67 612.00,223.86 612.50,224.05 613.00,224.25 613.50,224.41 614.00,224.53 614.50,224.64 615.00,224.60 615.50,224.13 616.00,223.63 616.50,223.10 617.00,222.49 617.50,221.93 618.00,221.75 618.50,221.64 619.00,221.67 619.50,221.85 620.00,222.16 620.50,222.50 621.00,222.81 621.50,223.01 622.00,223.04 622.50,222.94 623.00,222.76 623.50,222.51 624.00,222.23 624.50,221.94 625.00,221.66 625.50,221.42 626.00,221.25 626.50,221.16 627.00,221.17 627.50,221.25 628.00,221.40 628.50,221.59 629.00,221.81 629.50,222.04 630.00,222.26 630.50,222.46 631.00,222.62 631.50,222.73 632.00,222.77 632.50,222.77 633.00,222.75 633.50,222.71 634.00,222.66 634.50,222.59 635.00,222.51 635.50,222.43 636.00,222.35 636.50,222.27 637.00,222.20 637.50,222.13 638.00,222.08 638.50,222.04 639.00,222.02 639.50,222.00 640.00,221.99 640.50,221.99 641.00,221.98 641.50,221.98 642.00,222.08 642.50,222.56 643.00,223.04 643.50,223.52 644.00,224.00 644.50,224.37 645.00,224.36 645.50,224.35 646.00,224.31 646.50,224.27 647.00,224.22 647.50,224.16 648.00,224.10 648.50,224.05 649.00,223.99 649.50,223.95 650.00,223.93 650.50,223.92 651.00,223.93 651.50,223.96 652.00,224.02 652.50,224.10 653.00,224.21 653.50,224.34 654.00,224.48 654.50,224.63 655.00,224.77 655.50,224.91 656.00,225.04 656.50,225.16 657.00,225.25 657.50,225.32 658.00,225.35 658.50,225.34 659.00,225.23 659.50,225.01 660.00,224.73 660.50,224.42 661.00,224.10 661.50,223.82 662.00,223.59 662.50,223.46 663.00,223.44 663.50,223.51 664.00,223.64 664.50,223.82 665.00,224.01 665.50,224.21 666.00,224.38 666.50,224.52 667.00,224.62 667.50,224.69 668.00,224.23 668.50,223.73" fill="none" stroke="#D95319" stroke-width="2.9" stroke-linejoin="round"/>
<line x1="406.0" y1="281.90" x2="409.4" y2="281.90" stroke="#262626" stroke-width="1.4"/>
<line x1="668.8" y1="281.90" x2="665.4" y2="281.90" stroke="#262626" stroke-width="1.4"/>
<line x1="406.0" y1="250.30" x2="409.4" y2="250.30" stroke="#262626" stroke-width="1.4"/>
<line x1="668.8" y1="250.30" x2="665.4" y2="250.30" stroke="#262626" stroke-width="1.4"/>
<line x1="406.0" y1="218.70" x2="409.4" y2="218.70" stroke="#262626" stroke-width="1.4"/>
<line x1="668.8" y1="218.70" x2="665.4" y2="218.70" stroke="#262626" stroke-width="1.4"/>
<line x1="406.0" y1="187.10" x2="409.4" y2="187.10" stroke="#262626" stroke-width="1.4"/>
<line x1="668.8" y1="187.10" x2="665.4" y2="187.10" stroke="#262626" stroke-width="1.4"/>
<line x1="406.00" y1="281.9" x2="406.00" y2="278.5" stroke="#262626" stroke-width="1.4"/>
<line x1="406.00" y1="187.1" x2="406.00" y2="190.5" stroke="#262626" stroke-width="1.4"/>
<line x1="537.40" y1="281.9" x2="537.40" y2="278.5" stroke="#262626" stroke-width="1.4"/>
<line x1="537.40" y1="187.1" x2="537.40" y2="190.5" stroke="#262626" stroke-width="1.4"/>
<line x1="668.80" y1="281.9" x2="668.80" y2="278.5" stroke="#262626" stroke-width="1.4"/>
<line x1="668.80" y1="187.1" x2="668.80" y2="190.5" stroke="#262626" stroke-width="1.4"/>
<rect x="406.0" y="187.1" width="262.80" height="94.80" fill="none" stroke="#262626" stroke-width="1.3"/>
<text x="397.50" y="290.10" text-anchor="end" class="t">-1</text>
<text x="397.50" y="258.50" text-anchor="end" class="t">0</text>
<text x="397.50" y="226.90" text-anchor="end" class="t">1</text>
<text x="397.50" y="195.30" text-anchor="end" class="t">2</text>
<text x="406.00" y="311.30" text-anchor="middle" class="t">0</text>
<text x="537.40" y="311.30" text-anchor="middle" class="t">50</text>
<text x="668.80" y="311.30" text-anchor="middle" class="t">100</text>
<text x="537.40" y="341.10" text-anchor="middle" class="l">t(ms)</text>
<text x="0" y="0" transform="translate(366.70,236.00) rotate(-90) scale(1,0.92)" text-anchor="middle" class="yl">Line 4</text>
<line x1="55.85" y1="428.03" x2="318.9" y2="428.03" stroke="#e6e7e9" stroke-width="1.4"/>
<line x1="55.85" y1="396.47" x2="318.9" y2="396.47" stroke="#e6e7e9" stroke-width="1.4"/>
<line x1="187.38" y1="364.9" x2="187.38" y2="459.6" stroke="#e6e7e9" stroke-width="1.4"/>
<path d="M55.65 422.05h2.8v2.8h-2.8zM61.04 422.31h2.8v2.8h-2.8zM66.43 421.46h2.8v2.8h-2.8zM71.82 422.05h2.8v2.8h-2.8zM77.21 421.79h2.8v2.8h-2.8zM82.60 423.35h2.8v2.8h-2.8zM87.99 423.35h2.8v2.8h-2.8zM93.38 423.48h2.8v2.8h-2.8zM98.77 423.45h2.8v2.8h-2.8zM104.16 423.48h2.8v2.8h-2.8zM109.55 421.79h2.8v2.8h-2.8zM114.94 421.92h2.8v2.8h-2.8zM120.33 421.85h2.8v2.8h-2.8zM125.72 421.92h2.8v2.8h-2.8zM131.11 421.92h2.8v2.8h-2.8zM136.50 423.35h2.8v2.8h-2.8zM141.89 423.41h2.8v2.8h-2.8zM147.28 423.80h2.8v2.8h-2.8zM152.67 422.96h2.8v2.8h-2.8zM158.06 423.15h2.8v2.8h-2.8zM163.45 421.92h2.8v2.8h-2.8zM168.84 421.46h2.8v2.8h-2.8zM174.23 422.05h2.8v2.8h-2.8zM179.62 422.05h2.8v2.8h-2.8zM185.01 422.31h2.8v2.8h-2.8zM190.40 423.35h2.8v2.8h-2.8zM195.79 423.15h2.8v2.8h-2.8zM201.18 424.00h2.8v2.8h-2.8zM206.57 422.70h2.8v2.8h-2.8zM211.96 422.50h2.8v2.8h-2.8zM217.35 422.18h2.8v2.8h-2.8zM222.74 421.20h2.8v2.8h-2.8zM228.13 422.05h2.8v2.8h-2.8zM233.52 421.85h2.8v2.8h-2.8zM238.91 422.96h2.8v2.8h-2.8zM244.30 423.35h2.8v2.8h-2.8zM249.69 423.15h2.8v2.8h-2.8zM255.08 423.80h2.8v2.8h-2.8zM260.47 423.35h2.8v2.8h-2.8zM265.86 422.05h2.8v2.8h-2.8zM271.25 422.37h2.8v2.8h-2.8zM276.64 421.46h2.8v2.8h-2.8zM282.03 422.24h2.8v2.8h-2.8zM287.42 421.72h2.8v2.8h-2.8zM292.81 423.35h2.8v2.8h-2.8zM298.20 423.35h2.8v2.8h-2.8zM303.59 423.48h2.8v2.8h-2.8zM308.98 423.48h2.8v2.8h-2.8zM314.37 423.48h2.8v2.8h-2.8z" fill="#0072BD"/>
<polyline points="55.85,400.98 56.35,400.39 56.85,399.73 57.35,399.55 57.85,399.42 58.35,399.42 58.85,399.57 59.35,399.86 59.85,400.20 60.35,400.52 60.85,400.75 61.35,400.82 61.85,400.74 62.35,400.57 62.85,400.33 63.35,400.06 63.85,399.77 64.35,399.48 64.85,399.23 65.35,399.04 65.85,398.93 66.35,398.92 66.85,399.00 67.35,399.13 67.85,399.32 68.35,399.53 68.85,399.76 69.35,399.98 69.85,400.19 70.35,400.36 70.85,400.48 71.35,400.53 71.85,400.54 72.35,400.52 72.85,400.49 73.35,400.44 73.85,400.37 74.35,400.30 74.85,400.22 75.35,400.13 75.85,400.05 76.35,399.98 76.85,399.91 77.35,399.86 77.85,399.82 78.35,399.79 78.85,399.77 79.35,399.76 79.85,399.75 80.35,399.75 80.85,399.75 81.35,399.75 81.85,400.23 82.35,400.71 82.85,401.19 83.35,401.67 83.85,402.14 84.35,402.13 84.85,402.12 85.35,402.09 85.85,402.05 86.35,402.00 86.85,401.94 87.35,401.88 87.85,401.82 88.35,401.77 88.85,401.73 89.35,401.70 89.85,401.68 90.35,401.69 90.85,401.72 91.35,401.77 91.85,401.85 92.35,401.96 92.85,402.08 93.35,402.22 93.85,402.36 94.35,402.51 94.85,402.65 95.35,402.79 95.85,402.90 96.35,403.00 96.85,403.07 97.35,403.11 97.85,403.12 98.35,403.02 98.85,402.83 99.35,402.56 99.85,402.25 100.35,401.93 100.85,401.64 101.35,401.40 101.85,401.25 102.35,401.21 102.85,401.26 103.35,401.38 103.85,401.55 104.35,401.74 104.85,401.94 105.35,402.12 105.85,402.26 106.35,402.36 106.85,402.44 107.35,402.09 107.85,401.60 108.35,401.08 108.85,400.51 109.35,399.87 109.85,399.58 110.35,399.44 110.85,399.40 111.35,399.53 111.85,399.79 112.35,400.13 112.85,400.46 113.35,400.72 113.85,400.82 114.35,400.76 114.85,400.61 115.35,400.38 115.85,400.11 116.35,399.82 116.85,399.54 117.35,399.28 117.85,399.07 118.35,398.95 118.85,398.92 119.35,398.98 119.85,399.10 120.35,399.28 120.85,399.48 121.35,399.71 121.85,399.94 122.35,400.15 122.85,400.33 123.35,400.46 123.85,400.52 124.35,400.54 124.85,400.53 125.35,400.50 125.85,400.45 126.35,400.38 126.85,400.31 127.35,400.23 127.85,400.15 128.35,400.07 128.85,399.99 129.35,399.92 129.85,399.87 130.35,399.82 130.85,399.80 131.35,399.78 131.85,399.76 132.35,399.75 132.85,399.75 133.35,399.75 133.85,399.75 134.35,400.13 134.85,400.61 135.35,401.09 135.85,401.57 136.35,402.05 136.85,402.13 137.35,402.12 137.85,402.09 138.35,402.06 138.85,402.01 139.35,401.95 139.85,401.89 140.35,401.83 140.85,401.78 141.35,401.74 141.85,401.70 142.35,401.68 142.85,401.69 143.35,401.71 143.85,401.76 144.35,401.83 144.85,401.93 145.35,402.06 145.85,402.19 146.35,402.33 146.85,402.48 147.35,402.63 147.85,402.76 148.35,402.88 148.85,402.98 149.35,403.06 149.85,403.11 150.35,403.12 150.85,403.05 151.35,402.87 151.85,402.62 152.35,402.31 152.85,401.99 153.35,401.69 153.85,401.44 154.35,401.27 154.85,401.21 155.35,401.24 155.85,401.35 156.35,401.51 156.85,401.70 157.35,401.90 157.85,402.09 158.35,402.24 158.85,402.34 159.35,402.43 159.85,402.18 160.35,401.70 160.85,401.19 161.35,400.64 161.85,400.00 162.35,399.62 162.85,399.46 163.35,399.40 163.85,399.49 164.35,399.73 164.85,400.06 165.35,400.40 165.85,400.67 166.35,400.82 166.85,400.78 167.35,400.64 167.85,400.43 168.35,400.17 168.85,399.88 169.35,399.59 169.85,399.33 170.35,399.11 170.85,398.96 171.35,398.92 171.85,398.96 172.35,399.07 172.85,399.24 173.35,399.44 173.85,399.66 174.35,399.89 174.85,400.11 175.35,400.29 175.85,400.44 176.35,400.52 176.85,400.54 177.35,400.53 177.85,400.50 178.35,400.46 178.85,400.40 179.35,400.33 179.85,400.25 180.35,400.17 180.85,400.09 181.35,400.01 181.85,399.94 182.35,399.88 182.85,399.83 183.35,399.80 183.85,399.78 184.35,399.77 184.85,399.76 185.35,399.75 185.85,399.75 186.35,399.75 186.85,400.04 187.35,400.52 187.85,401.00 188.35,401.48 188.85,401.95 189.35,402.14 189.85,402.12 190.35,402.10 190.85,402.06 191.35,402.02 191.85,401.96 192.35,401.90 192.85,401.85 193.35,401.79 193.85,401.74 194.35,401.71 194.85,401.69 195.35,401.68 195.85,401.70 196.35,401.74 196.85,401.82 197.35,401.91 197.85,402.03 198.35,402.16 198.85,402.31 199.35,402.45 199.85,402.60 200.35,402.73 200.85,402.86 201.35,402.97 201.85,403.05 202.35,403.10 202.85,403.12 203.35,403.08 203.85,402.92 204.35,402.67 204.85,402.38 205.35,402.06 205.85,401.75 206.35,401.48 206.85,401.29 207.35,401.21 207.85,401.23 208.35,401.32 208.85,401.47 209.35,401.66 209.85,401.86 210.35,402.05 210.85,402.21 211.35,402.32 211.85,402.42 212.35,402.27 212.85,401.80 213.35,401.29 213.85,400.75 214.35,400.13 214.85,399.65 215.35,399.49 215.85,399.40 216.35,399.46 216.85,399.68 217.35,399.99 217.85,400.33 218.35,400.63 218.85,400.80 219.35,400.80 219.85,400.68 220.35,400.48 220.85,400.23 221.35,399.94 221.85,399.65 222.35,399.38 222.85,399.15 223.35,398.99 223.85,398.92 224.35,398.94 224.85,399.04 225.35,399.20 225.85,399.40 226.35,399.62 226.85,399.85 227.35,400.07 227.85,400.26 228.35,400.41 228.85,400.51 229.35,400.53 229.85,400.53 230.35,400.51 230.85,400.47 231.35,400.41 231.85,400.34 232.35,400.26 232.85,400.18 233.35,400.10 233.85,400.02 234.35,399.95 234.85,399.89 235.35,399.84 235.85,399.81 236.35,399.78 236.85,399.77 237.35,399.76 237.85,399.75 238.35,399.75 238.85,399.75 239.35,399.94 239.85,400.42 240.35,400.90 240.85,401.38 241.35,401.86 241.85,402.14 242.35,402.13 242.85,402.11 243.35,402.07 243.85,402.03 244.35,401.97 244.85,401.92 245.35,401.86 245.85,401.80 246.35,401.75 246.85,401.71 247.35,401.69 247.85,401.68 248.35,401.70 248.85,401.73 249.35,401.80 249.85,401.89 250.35,402.01 250.85,402.14 251.35,402.28 251.85,402.42 252.35,402.57 252.85,402.71 253.35,402.84 253.85,402.95 254.35,403.03 254.85,403.09 255.35,403.12 255.85,403.09 256.35,402.96 256.85,402.73 257.35,402.44 257.85,402.12 258.35,401.81 258.85,401.53 259.35,401.32 259.85,401.22 260.35,401.22 260.85,401.30 261.35,401.44 261.85,401.62 262.35,401.82 262.85,402.01 263.35,402.18 263.85,402.30 264.35,402.40 264.85,402.36 265.35,401.90 265.85,401.40 266.35,400.87 266.85,400.26 267.35,399.69 267.85,399.51 268.35,399.41 268.85,399.43 269.35,399.62 269.85,399.92 270.35,400.27 270.85,400.58 271.35,400.78 271.85,400.81 272.35,400.71 272.85,400.53 273.35,400.28 273.85,400.00 274.35,399.71 274.85,399.43 275.35,399.19 275.85,399.01 276.35,398.92 276.85,398.93 277.35,399.02 277.85,399.17 278.35,399.36 278.85,399.57 279.35,399.80 279.85,400.02 280.35,400.22 280.85,400.39 281.35,400.49 281.85,400.53 282.35,400.54 282.85,400.52 283.35,400.48 283.85,400.42 284.35,400.36 284.85,400.28 285.35,400.20 285.85,400.12 286.35,400.04 286.85,399.96 287.35,399.90 287.85,399.85 288.35,399.81 288.85,399.79 289.35,399.77 289.85,399.76 290.35,399.75 290.85,399.75 291.35,399.75 291.85,399.84 292.35,400.33 292.85,400.81 293.35,401.29 293.85,401.76 294.35,402.14 294.85,402.13 295.35,402.11 295.85,402.08 296.35,402.04 296.85,401.98 297.35,401.93 297.85,401.87 298.35,401.81 298.85,401.76 299.35,401.72 299.85,401.69 300.35,401.68 300.85,401.69 301.35,401.72 301.85,401.78 302.35,401.87 302.85,401.98 303.35,402.11 303.85,402.25 304.35,402.39 304.85,402.54 305.35,402.68 305.85,402.81 306.35,402.93 306.85,403.02 307.35,403.08 307.85,403.12 308.35,403.11 308.85,402.99 309.35,402.78 309.85,402.50 310.35,402.19 310.85,401.87 311.35,401.58 311.85,401.36 312.35,401.23 312.85,401.21 313.35,401.28 313.85,401.41 314.35,401.58 314.85,401.78 315.35,401.98 315.85,402.15 316.35,402.28 316.85,402.38 317.35,402.45 317.85,402.00 318.35,401.50 318.85,400.98" fill="none" stroke="#D95319" stroke-width="2.9" stroke-linejoin="round"/>
<line x1="55.85" y1="459.60" x2="59.25" y2="459.60" stroke="#262626" stroke-width="1.4"/>
<line x1="318.9" y1="459.60" x2="315.5" y2="459.60" stroke="#262626" stroke-width="1.4"/>
<line x1="55.85" y1="428.03" x2="59.25" y2="428.03" stroke="#262626" stroke-width="1.4"/>
<line x1="318.9" y1="428.03" x2="315.5" y2="428.03" stroke="#262626" stroke-width="1.4"/>
<line x1="55.85" y1="396.47" x2="59.25" y2="396.47" stroke="#262626" stroke-width="1.4"/>
<line x1="318.9" y1="396.47" x2="315.5" y2="396.47" stroke="#262626" stroke-width="1.4"/>
<line x1="55.85" y1="364.90" x2="59.25" y2="364.90" stroke="#262626" stroke-width="1.4"/>
<line x1="318.9" y1="364.90" x2="315.5" y2="364.90" stroke="#262626" stroke-width="1.4"/>
<line x1="55.85" y1="459.6" x2="55.85" y2="456.20000000000005" stroke="#262626" stroke-width="1.4"/>
<line x1="55.85" y1="364.9" x2="55.85" y2="368.29999999999995" stroke="#262626" stroke-width="1.4"/>
<line x1="187.38" y1="459.6" x2="187.38" y2="456.20000000000005" stroke="#262626" stroke-width="1.4"/>
<line x1="187.38" y1="364.9" x2="187.38" y2="368.29999999999995" stroke="#262626" stroke-width="1.4"/>
<line x1="318.90" y1="459.6" x2="318.90" y2="456.20000000000005" stroke="#262626" stroke-width="1.4"/>
<line x1="318.90" y1="364.9" x2="318.90" y2="368.29999999999995" stroke="#262626" stroke-width="1.4"/>
<rect x="55.85" y="364.9" width="263.05" height="94.70" fill="none" stroke="#262626" stroke-width="1.3"/>
<text x="47.35" y="467.80" text-anchor="end" class="t">-1</text>
<text x="47.35" y="436.23" text-anchor="end" class="t">0</text>
<text x="47.35" y="404.67" text-anchor="end" class="t">1</text>
<text x="47.35" y="373.10" text-anchor="end" class="t">2</text>
<text x="55.85" y="489.00" text-anchor="middle" class="t">0</text>
<text x="187.38" y="489.00" text-anchor="middle" class="t">50</text>
<text x="318.90" y="489.00" text-anchor="middle" class="t">100</text>
<text x="187.38" y="518.80" text-anchor="middle" class="l">t(ms)</text>
<text x="0" y="0" transform="translate(16.55,413.75) rotate(-90) scale(1,0.92)" text-anchor="middle" class="yl">Line 5</text>
<line x1="406.0" y1="428.03" x2="668.8" y2="428.03" stroke="#e6e7e9" stroke-width="1.4"/>
<line x1="406.0" y1="396.47" x2="668.8" y2="396.47" stroke="#e6e7e9" stroke-width="1.4"/>
<line x1="537.40" y1="364.9" x2="537.40" y2="459.6" stroke="#e6e7e9" stroke-width="1.4"/>
<path d="M405.80 422.05h2.8v2.8h-2.8zM411.19 422.31h2.8v2.8h-2.8zM416.58 421.46h2.8v2.8h-2.8zM421.97 422.05h2.8v2.8h-2.8zM427.36 421.79h2.8v2.8h-2.8zM432.75 423.35h2.8v2.8h-2.8zM438.14 423.35h2.8v2.8h-2.8zM443.53 423.48h2.8v2.8h-2.8zM448.92 423.45h2.8v2.8h-2.8zM454.31 423.48h2.8v2.8h-2.8zM459.70 421.79h2.8v2.8h-2.8zM465.09 421.92h2.8v2.8h-2.8zM470.48 421.85h2.8v2.8h-2.8zM475.87 421.92h2.8v2.8h-2.8zM481.26 421.92h2.8v2.8h-2.8zM486.65 423.35h2.8v2.8h-2.8zM492.04 423.41h2.8v2.8h-2.8zM497.43 423.80h2.8v2.8h-2.8zM502.82 422.96h2.8v2.8h-2.8zM508.21 423.15h2.8v2.8h-2.8zM513.60 421.92h2.8v2.8h-2.8zM518.99 421.46h2.8v2.8h-2.8zM524.38 422.05h2.8v2.8h-2.8zM529.77 422.05h2.8v2.8h-2.8zM535.16 422.31h2.8v2.8h-2.8zM540.55 423.35h2.8v2.8h-2.8zM545.94 423.15h2.8v2.8h-2.8zM551.33 424.00h2.8v2.8h-2.8zM556.72 422.70h2.8v2.8h-2.8zM562.11 422.50h2.8v2.8h-2.8zM567.50 422.18h2.8v2.8h-2.8zM572.89 421.20h2.8v2.8h-2.8zM578.28 422.05h2.8v2.8h-2.8zM583.67 421.85h2.8v2.8h-2.8zM589.06 422.96h2.8v2.8h-2.8zM594.45 423.35h2.8v2.8h-2.8zM599.84 423.15h2.8v2.8h-2.8zM605.23 423.80h2.8v2.8h-2.8zM610.62 423.35h2.8v2.8h-2.8zM616.01 422.05h2.8v2.8h-2.8zM621.40 422.37h2.8v2.8h-2.8zM626.79 421.46h2.8v2.8h-2.8zM632.18 422.24h2.8v2.8h-2.8zM637.57 421.72h2.8v2.8h-2.8zM642.96 423.35h2.8v2.8h-2.8zM648.35 423.35h2.8v2.8h-2.8zM653.74 423.48h2.8v2.8h-2.8zM659.13 423.48h2.8v2.8h-2.8zM664.52 423.48h2.8v2.8h-2.8z" fill="#0072BD"/>
<polyline points="406.00,400.98 406.50,400.39 407.00,399.73 407.50,399.55 408.00,399.42 408.50,399.42 409.00,399.57 409.50,399.86 410.00,400.20 410.50,400.52 411.00,400.75 411.50,400.82 412.00,400.74 412.50,400.57 413.00,400.33 413.50,400.06 414.00,399.77 414.50,399.48 415.00,399.23 415.50,399.04 416.00,398.93 416.50,398.92 417.00,399.00 417.50,399.13 418.00,399.32 418.50,399.53 419.00,399.76 419.50,399.98 420.00,400.19 420.50,400.36 421.00,400.48 421.50,400.53 422.00,400.54 422.50,400.52 423.00,400.49 423.50,400.44 424.00,400.37 424.50,400.30 425.00,400.22 425.50,400.13 426.00,400.05 426.50,399.98 427.00,399.91 427.50,399.86 428.00,399.82 428.50,399.79 429.00,399.77 429.50,399.76 430.00,399.75 430.50,399.75 431.00,399.75 431.50,399.75 432.00,400.23 432.50,400.71 433.00,401.19 433.50,401.67 434.00,402.14 434.50,402.13 435.00,402.12 435.50,402.09 436.00,402.05 436.50,402.00 437.00,401.94 437.50,401.88 438.00,401.82 438.50,401.77 439.00,401.73 439.50,401.70 440.00,401.68 440.50,401.69 441.00,401.72 441.50,401.77 442.00,401.85 442.50,401.96 443.00,402.08 443.50,402.22 444.00,402.36 444.50,402.51 445.00,402.65 445.50,402.79 446.00,402.90 446.50,403.00 447.00,403.07 447.50,403.11 448.00,403.12 448.50,403.02 449.00,402.83 449.50,402.56 450.00,402.25 450.50,401.93 451.00,401.64 451.50,401.40 452.00,401.25 452.50,401.21 453.00,401.26 453.50,401.38 454.00,401.55 454.50,401.74 455.00,401.94 455.50,402.12 456.00,402.26 456.50,402.36 457.00,402.44 457.50,402.09 458.00,401.60 458.50,401.08 459.00,400.51 459.50,399.87 460.00,399.58 460.50,399.44 461.00,399.40 461.50,399.53 462.00,399.79 462.50,400.13 463.00,400.46 463.50,400.72 464.00,400.82 464.50,400.76 465.00,400.61 465.50,400.38 466.00,400.11 466.50,399.82 467.00,399.54 467.50,399.28 468.00,399.07 468.50,398.95 469.00,398.92 469.50,398.98 470.00,399.10 470.50,399.28 471.00,399.48 471.50,399.71 472.00,399.94 472.50,400.15 473.00,400.33 473.50,400.46 474.00,400.52 474.50,400.54 475.00,400.53 475.50,400.50 476.00,400.45 476.50,400.38 477.00,400.31 477.50,400.23 478.00,400.15 478.50,400.07 479.00,399.99 479.50,399.92 480.00,399.87 480.50,399.82 481.00,399.80 481.50,399.78 482.00,399.76 482.50,399.75 483.00,399.75 483.50,399.75 484.00,399.75 484.50,400.13 485.00,400.61 485.50,401.09 486.00,401.57 486.50,402.05 487.00,402.13 487.50,402.12 488.00,402.09 488.50,402.06 489.00,402.01 489.50,401.95 490.00,401.89 490.50,401.83 491.00,401.78 491.50,401.74 492.00,401.70 492.50,401.68 493.00,401.69 493.50,401.71 494.00,401.76 494.50,401.83 495.00,401.93 495.50,402.06 496.00,402.19 496.50,402.33 497.00,402.48 497.50,402.63 498.00,402.76 498.50,402.88 499.00,402.98 499.50,403.06 500.00,403.11 500.50,403.12 501.00,403.05 501.50,402.87 502.00,402.62 502.50,402.31 503.00,401.99 503.50,401.69 504.00,401.44 504.50,401.27 505.00,401.21 505.50,401.24 506.00,401.35 506.50,401.51 507.00,401.70 507.50,401.90 508.00,402.09 508.50,402.24 509.00,402.34 509.50,402.43 510.00,402.18 510.50,401.70 511.00,401.19 511.50,400.64 512.00,400.00 512.50,399.62 513.00,399.46 513.50,399.40 514.00,399.49 514.50,399.73 515.00,400.06 515.50,400.40 516.00,400.67 516.50,400.82 517.00,400.78 517.50,400.64 518.00,400.43 518.50,400.17 519.00,399.88 519.50,399.59 520.00,399.33 520.50,399.11 521.00,398.96 521.50,398.92 522.00,398.96 522.50,399.07 523.00,399.24 523.50,399.44 524.00,399.66 524.50,399.89 525.00,400.11 525.50,400.29 526.00,400.44 526.50,400.52 527.00,400.54 527.50,400.53 528.00,400.50 528.50,400.46 529.00,400.40 529.50,400.33 530.00,400.25 530.50,400.17 531.00,400.09 531.50,400.01 532.00,399.94 532.50,399.88 533.00,399.83 533.50,399.80 534.00,399.78 534.50,399.77 535.00,399.76 535.50,399.75 536.00,399.75 536.50,399.75 537.00,400.04 537.50,400.52 538.00,401.00 538.50,401.48 539.00,401.95 539.50,402.14 540.00,402.12 540.50,402.10 541.00,402.06 541.50,402.02 542.00,401.96 542.50,401.90 543.00,401.85 543.50,401.79 544.00,401.74 544.50,401.71 545.00,401.69 545.50,401.68 546.00,401.70 546.50,401.74 547.00,401.82 547.50,401.91 548.00,402.03 548.50,402.16 549.00,402.31 549.50,402.45 550.00,402.60 550.50,402.73 551.00,402.86 551.50,402.97 552.00,403.05 552.50,403.10 553.00,403.12 553.50,403.08 554.00,402.92 554.50,402.67 555.00,402.38 555.50,402.06 556.00,401.75 556.50,401.48 557.00,401.29 557.50,401.21 558.00,401.23 558.50,401.32 559.00,401.47 559.50,401.66 560.00,401.86 560.50,402.05 561.00,402.21 561.50,402.32 562.00,402.42 562.50,402.27 563.00,401.80 563.50,401.29 564.00,400.75 564.50,400.13 565.00,399.65 565.50,399.49 566.00,399.40 566.50,399.46 567.00,399.68 567.50,399.99 568.00,400.33 568.50,400.63 569.00,400.80 569.50,400.80 570.00,400.68 570.50,400.48 571.00,400.23 571.50,399.94 572.00,399.65 572.50,399.38 573.00,399.15 573.50,398.99 574.00,398.92 574.50,398.94 575.00,399.04 575.50,399.20 576.00,399.40 576.50,399.62 577.00,399.85 577.50,400.07 578.00,400.26 578.50,400.41 579.00,400.51 579.50,400.53 580.00,400.53 580.50,400.51 581.00,400.47 581.50,400.41 582.00,400.34 582.50,400.26 583.00,400.18 583.50,400.10 584.00,400.02 584.50,399.95 585.00,399.89 585.50,399.84 586.00,399.81 586.50,399.78 587.00,399.77 587.50,399.76 588.00,399.75 588.50,399.75 589.00,399.75 589.50,399.94 590.00,400.42 590.50,400.90 591.00,401.38 591.50,401.86 592.00,402.14 592.50,402.13 593.00,402.11 593.50,402.07 594.00,402.03 594.50,401.97 595.00,401.92 595.50,401.86 596.00,401.80 596.50,401.75 597.00,401.71 597.50,401.69 598.00,401.68 598.50,401.70 599.00,401.73 599.50,401.80 600.00,401.89 600.50,402.01 601.00,402.14 601.50,402.28 602.00,402.42 602.50,402.57 603.00,402.71 603.50,402.84 604.00,402.95 604.50,403.03 605.00,403.09 605.50,403.12 606.00,403.09 606.50,402.96 607.00,402.73 607.50,402.44 608.00,402.12 608.50,401.81 609.00,401.53 609.50,401.32 610.00,401.22 610.50,401.22 611.00,401.30 611.50,401.44 612.00,401.62 612.50,401.82 613.00,402.01 613.50,402.18 614.00,402.30 614.50,402.40 615.00,402.36 615.50,401.90 616.00,401.40 616.50,400.87 617.00,400.26 617.50,399.69 618.00,399.51 618.50,399.41 619.00,399.43 619.50,399.62 620.00,399.92 620.50,400.27 621.00,400.58 621.50,400.78 622.00,400.81 622.50,400.71 623.00,400.53 623.50,400.28 624.00,400.00 624.50,399.71 625.00,399.43 625.50,399.19 626.00,399.01 626.50,398.92 627.00,398.93 627.50,399.02 628.00,399.17 628.50,399.36 629.00,399.57 629.50,399.80 630.00,400.02 630.50,400.22 631.00,400.39 631.50,400.49 632.00,400.53 632.50,400.54 633.00,400.52 633.50,400.48 634.00,400.42 634.50,400.36 635.00,400.28 635.50,400.20 636.00,400.12 636.50,400.04 637.00,399.96 637.50,399.90 638.00,399.85 638.50,399.81 639.00,399.79 639.50,399.77 640.00,399.76 640.50,399.75 641.00,399.75 641.50,399.75 642.00,399.84 642.50,400.33 643.00,400.81 643.50,401.29 644.00,401.76 644.50,402.14 645.00,402.13 645.50,402.11 646.00,402.08 646.50,402.04 647.00,401.98 647.50,401.93 648.00,401.87 648.50,401.81 649.00,401.76 649.50,401.72 650.00,401.69 650.50,401.68 651.00,401.69 651.50,401.72 652.00,401.78 652.50,401.87 653.00,401.98 653.50,402.11 654.00,402.25 654.50,402.39 655.00,402.54 655.50,402.68 656.00,402.81 656.50,402.93 657.00,403.02 657.50,403.08 658.00,403.12 658.50,403.11 659.00,402.99 659.50,402.78 660.00,402.50 660.50,402.19 661.00,401.87 661.50,401.58 662.00,401.36 662.50,401.23 663.00,401.21 663.50,401.28 664.00,401.41 664.50,401.58 665.00,401.78 665.50,401.98 666.00,402.15 666.50,402.28 667.00,402.38 667.50,402.45 668.00,402.00 668.50,401.50" fill="none" stroke="#D95319" stroke-width="2.9" stroke-linejoin="round"/>
<line x1="406.0" y1="459.60" x2="409.4" y2="459.60" stroke="#262626" stroke-width="1.4"/>
<line x1="668.8" y1="459.60" x2="665.4" y2="459.60" stroke="#262626" stroke-width="1.4"/>
<line x1="406.0" y1="428.03" x2="409.4" y2="428.03" stroke="#262626" stroke-width="1.4"/>
<line x1="668.8" y1="428.03" x2="665.4" y2="428.03" stroke="#262626" stroke-width="1.4"/>
<line x1="406.0" y1="396.47" x2="409.4" y2="396.47" stroke="#262626" stroke-width="1.4"/>
<line x1="668.8" y1="396.47" x2="665.4" y2="396.47" stroke="#262626" stroke-width="1.4"/>
<line x1="406.0" y1="364.90" x2="409.4" y2="364.90" stroke="#262626" stroke-width="1.4"/>
<line x1="668.8" y1="364.90" x2="665.4" y2="364.90" stroke="#262626" stroke-width="1.4"/>
<line x1="406.00" y1="459.6" x2="406.00" y2="456.20000000000005" stroke="#262626" stroke-width="1.4"/>
<line x1="406.00" y1="364.9" x2="406.00" y2="368.29999999999995" stroke="#262626" stroke-width="1.4"/>
<line x1="537.40" y1="459.6" x2="537.40" y2="456.20000000000005" stroke="#262626" stroke-width="1.4"/>
<line x1="537.40" y1="364.9" x2="537.40" y2="368.29999999999995" stroke="#262626" stroke-width="1.4"/>
<line x1="668.80" y1="459.6" x2="668.80" y2="456.20000000000005" stroke="#262626" stroke-width="1.4"/>
<line x1="668.80" y1="364.9" x2="668.80" y2="368.29999999999995" stroke="#262626" stroke-width="1.4"/>
<rect x="406.0" y="364.9" width="262.80" height="94.70" fill="none" stroke="#262626" stroke-width="1.3"/>
<text x="397.50" y="467.80" text-anchor="end" class="t">-1</text>
<text x="397.50" y="436.23" text-anchor="end" class="t">0</text>
<text x="397.50" y="404.67" text-anchor="end" class="t">1</text>
<text x="397.50" y="373.10" text-anchor="end" class="t">2</text>
<text x="406.00" y="489.00" text-anchor="middle" class="t">0</text>
<text x="537.40" y="489.00" text-anchor="middle" class="t">50</text>
<text x="668.80" y="489.00" text-anchor="middle" class="t">100</text>
<text x="537.40" y="518.80" text-anchor="middle" class="l">t(ms)</text>
<text x="0" y="0" transform="translate(366.70,413.75) rotate(-90) scale(1,0.92)" text-anchor="middle" class="yl">Line 6</text>
<rect x="316.0" y="494.9" width="94.40" height="52.30" fill="#fff" stroke="#262626" stroke-width="1.3"/>
<path d="M321.35 507.85h2.7v2.7h-2.7zM327.03 507.85h2.7v2.7h-2.7zM332.71 507.85h2.7v2.7h-2.7zM338.39 507.85h2.7v2.7h-2.7zM344.07 507.85h2.7v2.7h-2.7zM349.75 507.85h2.7v2.7h-2.7zM355.43 507.85h2.7v2.7h-2.7zM361.11 507.85h2.7v2.7h-2.7zM366.79 507.85h2.7v2.7h-2.7zM372.47 507.85h2.7v2.7h-2.7z" fill="#0072BD"/>
<line x1="321.5" y1="532.9" x2="378" y2="532.9" stroke="#D95319" stroke-width="2.5"/>
<text x="382.8" y="515.8" class="g">E1</text>
<text x="382.8" y="539.6" class="g">E2</text>
</svg>
</body></html>
